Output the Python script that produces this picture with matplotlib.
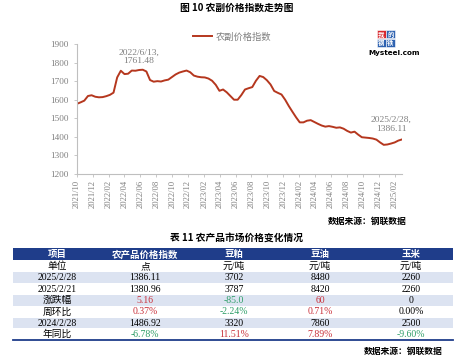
import matplotlib
matplotlib.use('Agg')
import matplotlib.pyplot as plt
import matplotlib.dates as mdates
from matplotlib import patches
import pandas as pd

CJK = ['Noto Sans CJK SC', 'DejaVu Sans']
SERIF = ['Liberation Serif', 'Noto Sans CJK SC']
plt.rcParams['font.family'] = CJK

GREY = '#7F7F7F'
LINE_RED = '#B5371E'
NAVY = '#1F3D8A'
BAND = '#DCE3F1'
UP = '#C9303A'
DOWN = '#2E9E68'

# ---- chart data (biweekly) ----
START = '2021-10-01'
END = '2025-02-28'
index_values = [
    1578, 1586, 1595, 1620, 1624, 1616, 1613, 1614, 1619, 1626,
    1638, 1720, 1756, 1738, 1740, 1757, 1756, 1760, 1761.48, 1752,
    1706, 1697, 1700, 1698, 1704, 1708, 1722, 1736, 1746, 1752,
    1757, 1748, 1730, 1724, 1721, 1720, 1714, 1702, 1680, 1648,
    1655, 1640, 1620, 1600, 1600, 1625, 1655, 1662, 1668, 1702,
    1728, 1722, 1705, 1682, 1647, 1637, 1628, 1600, 1566, 1535,
    1505, 1478, 1478, 1487, 1490, 1480, 1470, 1461, 1455, 1458,
    1454, 1449, 1451, 1444, 1432, 1423, 1428, 1412, 1398, 1396,
    1394, 1391, 1385, 1370, 1357, 1359, 1364, 1370, 1380, 1386.11,
]
series_name = '农副价格指数'
peak_label = '2022/6/13,\n1761.48'
last_label = '2025/2/28,\n1386.11'

# ---- table data ----
col_headers = ['项目', '农产品价格指数', '豆粕', '豆油', '玉米']
row_labels = ['单位', '2025/2/28', '2025/2/21', '涨跌幅', '周环比', '2024/2/28', '年同比']
units = ['点', '元/吨', '元/吨', '元/吨']
price_now = ['1386.11', '3702', '8480', '2260']
price_prev = ['1380.96', '3787', '8420', '2260']
change = ['5.16', '-85.0', '60', '0']
wow = ['0.37%', '-2.24%', '0.71%', '0.00%']
price_year_ago = ['1486.92', '3320', '7860', '2500']
yoy = ['-6.78%', '11.51%', '7.89%', '-9.60%']
signed_rows = {3, 4, 6}

W, H = 474, 363
fig = plt.figure(figsize=(W / 100, H / 100), dpi=100)

# page layer in pixel coordinates
page = fig.add_axes([0, 0, 1, 1])
page.set_xlim(0, W)
page.set_ylim(H, 0)
page.axis('off')

page.text(237, 8, '图 10 农副价格指数走势图', ha='center', va='center',
          fontsize=7, fontweight='bold', color='black')
page.text(407, 221, '数据来源：钢联数据', ha='right', va='center',
          fontsize=6.3, fontweight='bold', color='black')

# logo
for (x0, y0, c, ch) in [(377, 30, '#D7262C', '我'), (386, 30, '#2E62B0', '的'),
                        (377, 38.5, '#2E62B0', '钢'), (386, 38.5, '#2E62B0', '铁')]:
    page.add_patch(patches.Rectangle((x0, y0), 8.6, 8.2, facecolor=c, edgecolor='white', lw=0.4))
    page.text(x0 + 4.3, y0 + 4.2, ch, ha='center', va='center', fontsize=4.6,
              color='white', fontweight='bold')
page.text(394, 52.5, 'Mysteel.com', ha='center', va='center', fontsize=5.2,
          fontweight='bold', color='black', family=['DejaVu Sans'])

# ---- table ----
page.text(237, 237.5, '表 11 农产品市场价格变化情况', ha='center', va='center',
          fontsize=7, fontweight='bold', color='black')
tx0, tx1 = 13, 453
col_x = [57, 145, 234, 320, 411]
page.add_patch(patches.Rectangle((tx0, 248), tx1 - tx0, 12, facecolor=NAVY, edgecolor='none'))
for cx, h in zip(col_x, col_headers):
    page.text(cx, 254.2, h, ha='center', va='center', fontsize=6.8,
              fontweight='bold', color='white')

rows = [units, price_now, price_prev, change, wow, price_year_ago, yoy]
row_h = 11.3
for i, (lab, vals) in enumerate(zip(row_labels, rows)):
    top = 261 + i * row_h
    cy = top + row_h / 2
    if i % 2 == 1:
        page.add_patch(patches.Rectangle((tx0, top), tx1 - tx0, row_h - 0.6,
                                         facecolor=BAND, edgecolor='none'))
    page.text(col_x[0], cy, lab, ha='center', va='center', fontsize=7,
              family=SERIF, color='black')
    for cx, v in zip(col_x[1:], vals):
        color = 'black'
        if i in signed_rows:
            if v.startswith('-'):
                color = DOWN
            elif float(v.rstrip('%')) != 0:
                color = UP
        page.text(cx, cy, v, ha='center', va='center', fontsize=7,
                  family=SERIF, color=color)
page.plot([tx0, tx1], [340.3, 340.3], color=NAVY, lw=1.3)

page.text(443, 351, '数据来源：钢联数据', ha='right', va='center',
          fontsize=6.3, fontweight='bold', color='black')

# ---- line chart ----
dates = pd.date_range(START, END, freq='14D')
ax = fig.add_axes([77 / W, 1 - 174 / H, (402 - 77) / W, 130 / H])
ax.patch.set_alpha(0)
line, = ax.plot(dates, index_values, color=LINE_RED, lw=1.4, label=series_name)
ax.set_ylim(1200, 1900)
ax.set_yticks(range(1200, 1901, 100))
ax.set_xlim(dates[0], dates[-1])
ax.xaxis.set_major_locator(mdates.MonthLocator(bymonth=[2, 4, 6, 8, 10, 12]))
ax.xaxis.set_major_formatter(mdates.DateFormatter('%Y/%m'))
for s in ['top', 'right']:
    ax.spines[s].set_visible(False)
for s in ['left', 'bottom']:
    ax.spines[s].set_color('#BFBFBF')
    ax.spines[s].set_linewidth(0.8)
ax.tick_params(axis='y', length=2, width=0.6, color='#BFBFBF', pad=4,
               labelsize=6.6, labelcolor=GREY)
ax.tick_params(axis='x', length=2.5, width=0.6, color='#BFBFBF', pad=1.5,
               labelsize=6.2, labelcolor=GREY, labelrotation=90)
for lbl in ax.get_xticklabels() + ax.get_yticklabels():
    lbl.set_family(SERIF)

ipk = max(range(len(index_values)), key=lambda k: index_values[k])
ax.annotate(peak_label, xy=(dates[ipk], index_values[ipk]), xytext=(-4, 13),
            textcoords='offset pixels', ha='center', va='center', fontsize=6.8,
            color=GREY, family=SERIF, linespacing=1.1)
ax.annotate(last_label, xy=(dates[-1], index_values[-1]), xytext=(-11, 15),
            textcoords='offset pixels', ha='center', va='center', fontsize=6.8,
            color=GREY, family=SERIF, linespacing=1.1)

leg = ax.legend(loc='center left', bbox_to_anchor=(193 / W, 1 - 37 / H),
                bbox_transform=fig.transFigure, frameon=False, borderpad=0,
                borderaxespad=0, handlelength=2.0, handletextpad=0.4,
                prop={'size': 6.7})
for t in leg.get_texts():
    t.set_color(GREY)

fig.savefig('out.png', dpi=100)
